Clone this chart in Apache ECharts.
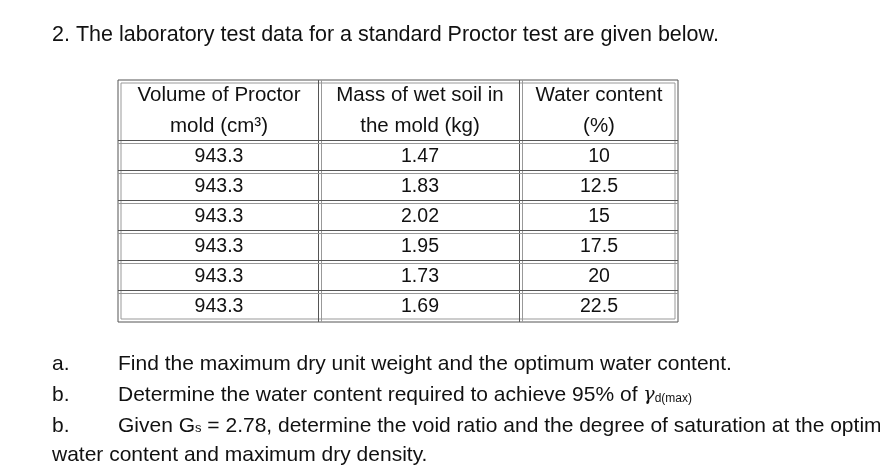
<!DOCTYPE html>
<html><head><meta charset="utf-8">
<script src="https://cdn.jsdelivr.net/npm/echarts@6/dist/echarts.min.js"></script>
<style>html,body{margin:0;padding:0;background:#fff}#c{width:880px;height:472px}</style>
</head><body><div id="c"></div>
<script>
var headers=[["Volume of Proctor","mold (cm³)"],["Mass of wet soil in","the mold (kg)"],["Water content","(%)"]];
var volume=["943.3","943.3","943.3","943.3","943.3","943.3"];
var mass=["1.47","1.83","2.02","1.95","1.73","1.69"];
var water=["10","12.5","15","17.5","20","22.5"];
var F='"Liberation Sans", Arial, sans-serif';
var colX=[118,320,521,678], rowY=[80,142,172,202,232,262,292,322];
var g=[];
function txt(x,y,t,align,size){g.push({type:'text',x:x,y:y,style:{text:t,font:(size||21)+'px '+F,fill:'#111',align:align||'left',verticalAlign:'middle'}});}
function line(x1,y1,x2,y2,c,w){g.push({type:'line',shape:{x1:x1,y1:y1,x2:x2,y2:y2},style:{stroke:c||'#777',lineWidth:w||1}});}
txt(52,35,"2. The laboratory test data for a standard Proctor test are given below.",'left',21.5);
g.push({type:'rect',shape:{x:118,y:80,width:560,height:242},style:{fill:'none',stroke:'#555',lineWidth:1}});
g.push({type:'rect',shape:{x:121,y:83,width:554,height:236},style:{fill:'none',stroke:'#999',lineWidth:1}});
for(var i=1;i<colX.length-1;i++){line(colX[i]-1.5,80,colX[i]-1.5,322,'#555');line(colX[i]+1.5,80,colX[i]+1.5,322,'#999');}
for(var j=1;j<rowY.length-1;j++){line(118,rowY[j]-1.5,678,rowY[j]-1.5,'#555');line(118,rowY[j]+1.5,678,rowY[j]+1.5,'#999');}
var cx=[219,420,599];
headers.forEach(function(h,k){txt(cx[k],95,h[0],'center',20.5);txt(cx[k],126,h[1],'center',20.5);});
var cols=[volume,mass,water];
for(var r=0;r<volume.length;r++){var yy=(rowY[r+1]+rowY[r+2])/2;cols.forEach(function(c,k){txt(cx[k],yy,c[r],'center',19.5);});}
txt(52,364,"a.");txt(118,364,"Find the maximum dry unit weight and the optimum water content.");
txt(52,395,"b.");
g.push({type:'text',x:118,y:395,style:{text:"Determine the water content required to achieve 95% of {g|γ}{s|d(max)}",font:'21px '+F,fill:'#111',verticalAlign:'middle',rich:{g:{font:'italic 19px "DejaVu Serif", serif',fill:'#111'},s:{font:'12px '+F,fill:'#111',padding:[8,0,0,0]}}}});
txt(52,426,"b.");
g.push({type:'text',x:118,y:426,style:{text:"Given G{s|s} = 2.78, determine the void ratio and the degree of saturation at the optimum",font:'21px '+F,fill:'#111',verticalAlign:'middle',rich:{s:{font:'13px '+F,fill:'#111',padding:[4,0,0,0]}}}});
txt(52,455,"water content and maximum dry density.");
var ch=echarts.init(document.getElementById('c'));
ch.setOption({animation:false,graphic:g});
</script></body></html>
